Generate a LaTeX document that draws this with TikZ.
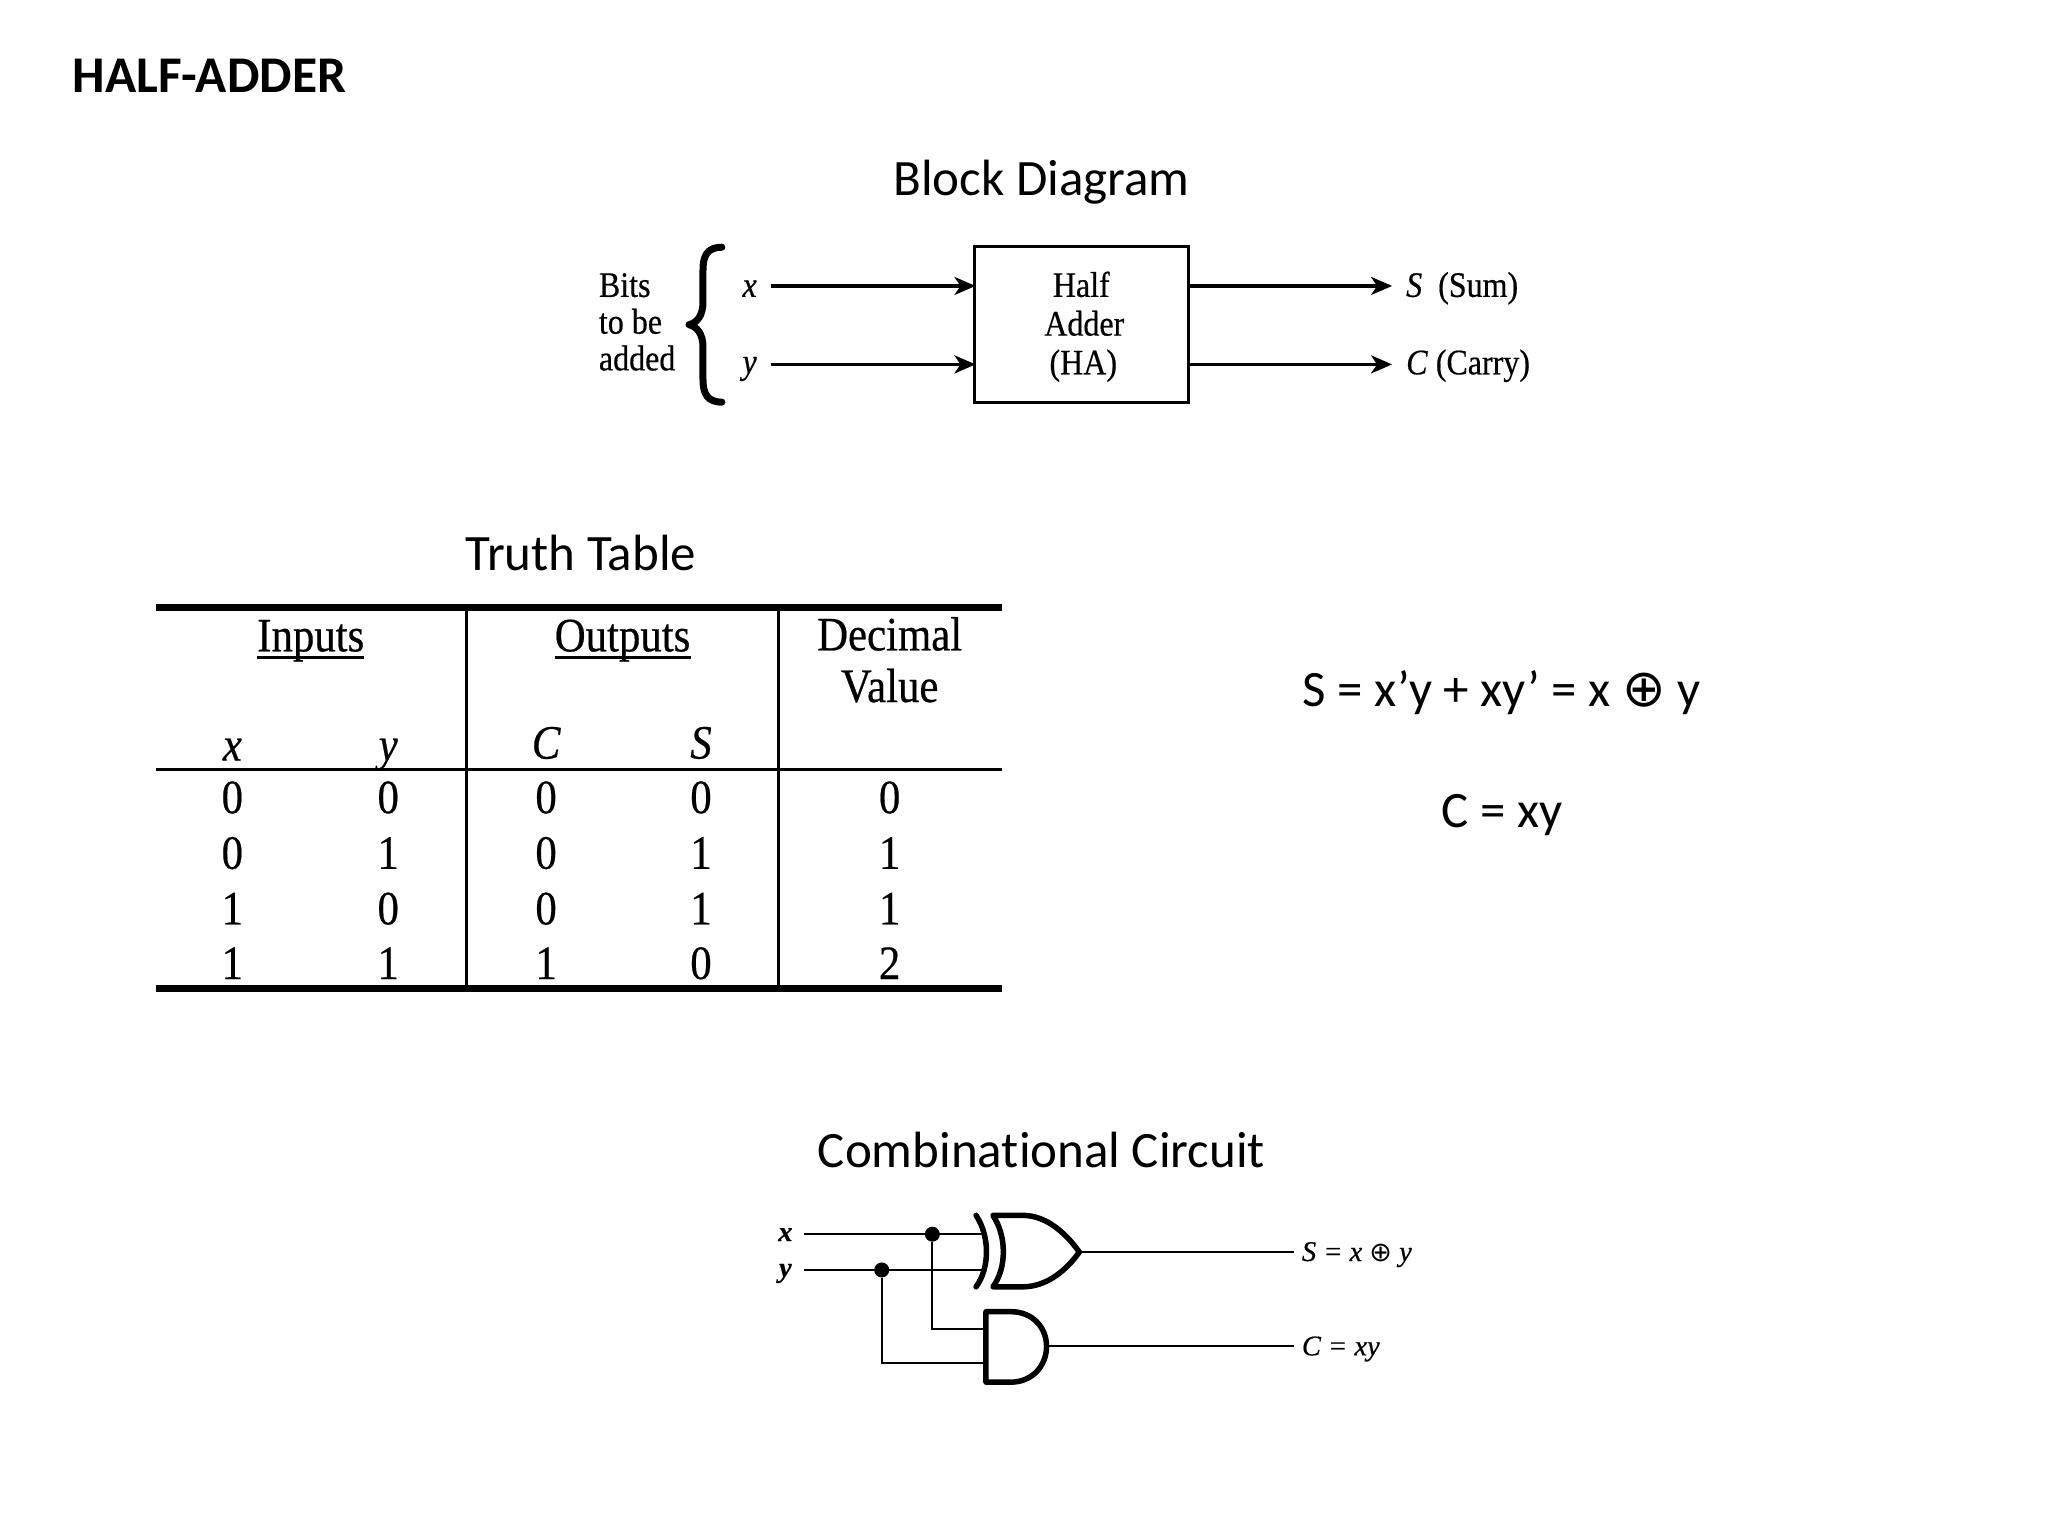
\documentclass[tikz,border=0pt]{standalone}
\usepackage{fontspec}
\usepackage{graphicx}
\usetikzlibrary{arrows.meta}
\setmainfont{Liberation Serif}[RawFeature={embolden=0.5}]
\newfontfamily\calfont{Carlito}[Ligatures=NoCommon]
\newfontfamily\symfont{DejaVu Sans}
\newcommand{\stt}[1]{\scalebox{1}[1.12]{#1}}
\tikzset{
  head/.style={anchor=base,inner sep=0pt,font=\calfont\fontsize{51}{60}\selectfont},
  blk/.style={anchor=base,inner sep=0pt,font=\fontsize{32}{36}\selectfont},
  tab/.style={anchor=base,inner sep=0pt,font=\fontsize{42.8}{50}\selectfont},
  cir/.style={anchor=base,inner sep=0pt,font=\fontsize{28.5}{32}\selectfont},
  wire/.style={line width=3.4pt,-{Stealth[length=21pt,width=18pt,inset=6pt]}},
  inwire/.style={wire,shorten >=-3pt},
  thin wire/.style={line width=2pt},
  heavy/.style={line width=7pt},
  rule/.style={line width=3.5pt},
  uline/.style={line width=2.4pt},
  gate/.style={line width=5.5pt,line join=round},
  dotnode/.style={circle,fill=black,inner sep=0pt,minimum size=15pt}
}
\begin{document}
\begin{tikzpicture}[x=0.9929pt,y=-0.9929pt]
\useasboundingbox (0,0) rectangle (2062.6,1547);
\fill[white] (0,0) rectangle (2062.6,1547);
% headings
\node[head,anchor=base west,font=\calfont\bfseries\fontsize{51.5}{60}\selectfont] (title) at (73,93) {HALF-ADDER};
\node[head] (hblock) at (1049,197) {Block Diagram};
\node[head] (htruth) at (585,575) {Truth Table};
\node[head] (hcirc) at (1049,1176) {Combinational Circuit};
% block diagram
\node[draw,line width=3.6pt,minimum width=214pt,minimum height=156pt,inner sep=0pt] (ha) at (1089,327) {};
\node[blk] (half) at (1089,299) {\stt{Half}};
\node[blk] (adder) at (1092,338) {\stt{Adder}};
\node[blk] (hatxt) at (1091,377) {\stt{(HA)}};
\node[blk,anchor=base west] (bits) at (603,299) {\stt{Bits}};
\node[blk,anchor=base west] (tobe) at (603,336) {\stt{to be}};
\node[blk,anchor=base west] (added) at (603,373) {\stt{added}};
\node[blk] (bx) at (755,299) {\stt{\itshape x}};
\node[blk] (by) at (755,376) {\stt{\itshape y}};
\node[blk,anchor=base west] (bs) at (1416,299) {\stt{\itshape S\/ \upshape\ (Sum)}};
\node[blk,anchor=base west] (bc) at (1416,377) {\stt{\itshape C\/ \upshape(Carry)}};
\coordinate (xa) at (776,288); \coordinate (ya) at (776,367);
\coordinate (sb) at (1402,288); \coordinate (cb) at (1402,367);
\draw[inwire] (xa) -- (xa -| ha.west);
\draw[inwire] (ya) -- (ya -| ha.west);
\draw[wire] (sb -| ha.east) -- (sb);
\draw[wire] (cb -| ha.east) -- (cb);
\draw[line width=7pt,line cap=round,line join=round] (727,249) .. controls (712,249) and (708,258) .. (708,272)
  -- (708,304) .. controls (708,318) and (702,325) .. (694,327)
  .. controls (702,329) and (708,336) .. (708,350) -- (708,382)
  .. controls (708,396) and (712,405) .. (727,405);
% truth table
\draw[heavy] (157,612) -- (1009,612);
\draw[rule] (157,775) -- (1009,775);
\draw[heavy] (157,996) -- (1009,996);
\draw[rule] (470,612) -- (470,996);
\draw[rule] (784,612) -- (784,996);
\node[tab] (inputs) at (313,656) {\stt{Inputs}};
\node[tab] (outputs) at (627,656) {\stt{Outputs}};
\draw[uline] ([yshift=-6pt]inputs.base west) -- ([yshift=-6pt]inputs.base east);
\draw[uline] ([yshift=-6pt]outputs.base west) -- ([yshift=-6pt]outputs.base east);
\node[tab] (decimal) at (896,655) {\stt{Decimal}};
\node[tab] (value) at (896,707) {\stt{Value}};
\node[tab] (tx) at (234,766) {\stt{\itshape x}};
\node[tab] (ty) at (391,766) {\stt{\itshape y}};
\node[tab] (tc) at (550,764) {\stt{\itshape C}};
\node[tab] (ts) at (706,764) {\stt{\itshape S}};
\foreach \rw/\yy/\a/\b/\c/\d/\e in {1/819/0/0/0/0/0,2/875/0/1/0/1/1,3/931/1/0/0/1/1,4/986/1/1/1/0/2}{
  \node[tab] (r\rw a) at (234,\yy) {\stt{\a}};
  \node[tab] (r\rw b) at (391,\yy) {\stt{\b}};
  \node[tab] (r\rw c) at (550,\yy) {\stt{\c}};
  \node[tab] (r\rw d) at (706,\yy) {\stt{\d}};
  \node[tab] (r\rw e) at (896,\yy) {\stt{\e}};
}
% equations
\node[head] (eqs) at (1512,712) {S = x’y + xy’ = x {\symfont\fontsize{52}{60}\selectfont ⊕} y};
\node[head] (eqc) at (1513,833) {C = xy};
% circuit
\node[cir] (cx) at (791,1250) {\bfseries\itshape x};
\node[cir] (cy) at (791,1286) {\bfseries\itshape y};
\coordinate (x0) at (810,1243); \coordinate (y0) at (810,1279);
\node[dotnode] (dx) at (939,1243) {};
\node[dotnode] (dy) at (888,1279) {};
\coordinate (xxi) at (990,1243); \coordinate (xyi) at (990,1279);
\coordinate (xtip) at (1087,1261);
\coordinate (atop) at (993,1338); \coordinate (abot) at (993,1373);
\coordinate (atip) at (1054,1356);
\coordinate (sout) at (1303,1261); \coordinate (cout) at (1303,1356);
\draw[gate,line cap=round] (983,1224) .. controls (997,1245) and (997,1277) .. (983,1296);
\draw[gate] (1000,1224) .. controls (1014,1245) and (1014,1277) .. (1000,1296)
  -- (1030,1296) .. controls (1055,1296) and (1075,1278) .. (xtip)
  .. controls (1075,1244) and (1055,1224) .. (1030,1224) -- cycle;
\draw[gate] (993,1321) -- (1018,1321) .. controls (1040,1321) and (1054,1337) .. (atip)
  .. controls (1054,1375) and (1040,1392) .. (1018,1392) -- (993,1392) -- cycle;
\draw[thin wire] (x0) -- (xxi);
\draw[thin wire] (y0) -- (xyi);
\draw[thin wire] (dx) |- (atop);
\draw[thin wire] (dy) |- (abot);
\draw[thin wire] (xtip) -- (sout);
\draw[thin wire] (atip) -- (cout);
\node[cir,anchor=base west] (sl) at (1311,1270) {\itshape S = x {\symfont\upshape\fontsize{27}{30}\selectfont ⊕} y};
\node[cir,anchor=base west] (cl) at (1311,1365) {\itshape C = xy};
\end{tikzpicture}
\end{document}
